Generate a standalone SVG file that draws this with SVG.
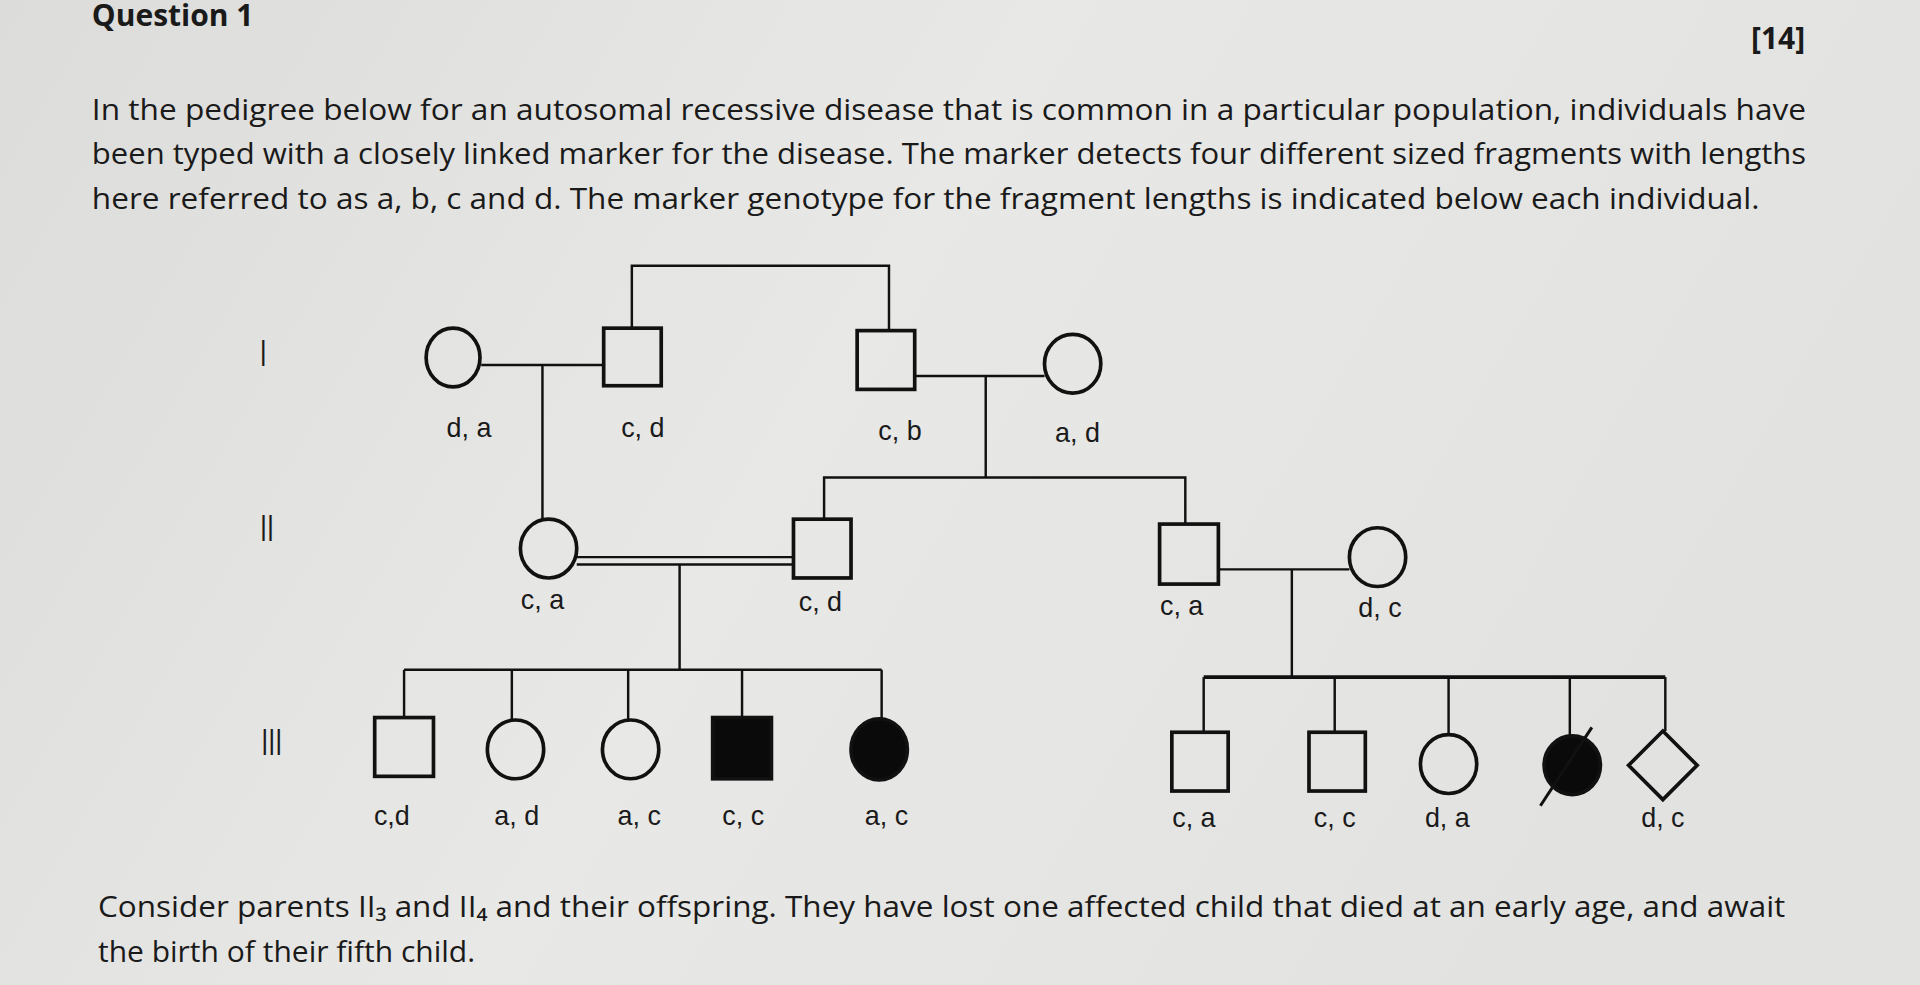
<svg xmlns="http://www.w3.org/2000/svg" width="1920" height="985" viewBox="0 0 1920 985">
<defs>
<linearGradient id="bg" x1="0" y1="0" x2="1" y2="0.3">
<stop offset="0" stop-color="#dcdcda"/><stop offset="0.5" stop-color="#e8e8e6"/><stop offset="1" stop-color="#e2e3e1"/>
</linearGradient>
<style>
.t{font-family:"Open Sans","Liberation Sans",sans-serif;fill:#1a1a1a;font-size:24.5px}
.l{font-family:"Liberation Sans",sans-serif;fill:#1a1a1a;font-size:22px;text-anchor:middle}
.s{fill:none;stroke:#111;stroke-width:3}
.f{fill:#0a0a0a;stroke:#111;stroke-width:3}
.c line,.c polyline{stroke:#111;stroke-width:2;fill:none}
</style>
</defs>
<rect width="1920" height="985" fill="url(#bg)"/>
<g transform="scale(1.2245)">
<text class="t" x="75" y="21" font-weight="bold" font-size="21">Question 1</text>
<text class="t" x="1430" y="40" font-weight="bold" font-size="20">[14]</text>
<text class="t" x="75" y="98" textLength="1400" lengthAdjust="spacingAndGlyphs">In the pedigree below for an autosomal recessive disease that is common in a particular population, individuals have</text>
<text class="t" x="75" y="134" textLength="1400" lengthAdjust="spacingAndGlyphs">been typed with a closely linked marker for the disease. The marker detects four different sized fragments with lengths</text>
<text class="t" x="75" y="171" textLength="1362" lengthAdjust="spacingAndGlyphs">here referred to as a, b, c and d. The marker genotype for the fragment lengths is indicated below each individual.</text>
<text class="t" x="80" y="749" textLength="1378" lengthAdjust="spacingAndGlyphs">Consider parents II₃ and II₄ and their offspring. They have lost one affected child that died at an early age, and await</text>
<text class="t" x="80" y="786">the birth of their fifth child.</text>
<text x="215" y="294" class="l">|</text><text x="218" y="437" class="l">||</text><text x="222" y="612" class="l">|||</text>

<g class="c" id="connectors">
<line x1="393" y1="298" x2="493" y2="298"/><line x1="443" y1="298" x2="443" y2="424"/>
<line x1="747" y1="307" x2="853" y2="307"/><line x1="805" y1="307" x2="805" y2="390"/>
<polyline points="516,268 516,217 726,217 726,270"/>
<polyline points="673,424 673,390 968,390 968,428"/>
<line x1="471" y1="455" x2="648" y2="455"/><line x1="471" y1="461" x2="648" y2="461"/>
<line x1="555" y1="461" x2="555" y2="548"/>
<line x1="995" y1="465" x2="1102" y2="465"/><line x1="1055" y1="465" x2="1055" y2="553"/>
<line x1="330" y1="547" x2="720" y2="547"/>
<line x1="330" y1="547" x2="330" y2="586"/><line x1="418" y1="547" x2="418" y2="589"/><line x1="513" y1="547" x2="513" y2="589"/><line x1="606" y1="547" x2="606" y2="586"/><line x1="720" y1="547" x2="720" y2="588"/>
<line x1="983" y1="553" x2="1360" y2="553" style="stroke-width:3"/>
<line x1="983" y1="553" x2="983" y2="598"/><line x1="1090" y1="553" x2="1090" y2="598"/><line x1="1183" y1="553" x2="1183" y2="601"/><line x1="1282" y1="553" x2="1282" y2="601"/><line x1="1360" y1="553" x2="1360" y2="597"/>
</g>

<g id="I1"><ellipse class="s" cx="370" cy="292" rx="22" ry="24"/><text class="l" x="383" y="357">d, a</text></g>
<g id="I2"><rect class="s" x="493" y="268" width="47" height="47"/><text class="l" x="525" y="357">c, d</text></g>
<g id="I3"><rect class="s" x="700" y="270" width="47" height="48"/><text class="l" x="735" y="359">c, b</text></g>
<g id="I4"><ellipse class="s" cx="876" cy="297" rx="23" ry="24"/><text class="l" x="880" y="361">a, d</text></g>
<g id="II1"><ellipse class="s" cx="448" cy="448" rx="23" ry="24"/><text class="l" x="443" y="497">c, a</text></g>
<g id="II2"><rect class="s" x="648" y="424" width="47" height="48"/><text class="l" x="670" y="499">c, d</text></g>
<g id="II3"><rect class="s" x="947" y="428" width="48" height="49"/><text class="l" x="965" y="502">c, a</text></g>
<g id="II4"><ellipse class="s" cx="1125" cy="455" rx="23" ry="24"/><text class="l" x="1127" y="504">d, c</text></g>
<g id="III1"><rect class="s" x="306" y="586" width="48" height="48"/><text class="l" x="320" y="674">c,d</text></g>
<g id="III2"><ellipse class="s" cx="421" cy="612" rx="23" ry="24"/><text class="l" x="422" y="674">a, d</text></g>
<g id="III3"><ellipse class="s" cx="515" cy="612" rx="23" ry="24"/><text class="l" x="522" y="674">a, c</text></g>
<g id="III4"><rect class="f" x="582" y="586" width="48" height="50"/><text class="l" x="607" y="674">c, c</text></g>
<g id="III5"><ellipse class="f" cx="718" cy="612" rx="23" ry="25"/><text class="l" x="724" y="674">a, c</text></g>
<g id="III6"><rect class="s" x="957" y="598" width="46" height="48"/><text class="l" x="975" y="675">c, a</text></g>
<g id="III7"><rect class="s" x="1069" y="598" width="46" height="48"/><text class="l" x="1090" y="675">c, c</text></g>
<g id="III8"><ellipse class="s" cx="1183" cy="624" rx="23" ry="24"/><text class="l" x="1182" y="675">d, a</text></g>
<g id="III9"><ellipse class="f" cx="1284" cy="625" rx="23" ry="24"/><line x1="1258" y1="658" x2="1300" y2="594" stroke="#111" stroke-width="2.5"/></g>
<g id="III10"><polygon class="s" points="1358,597 1386,625 1358,653 1330,625"/><text class="l" x="1358" y="675">d, c</text></g>
</g>
</svg>
